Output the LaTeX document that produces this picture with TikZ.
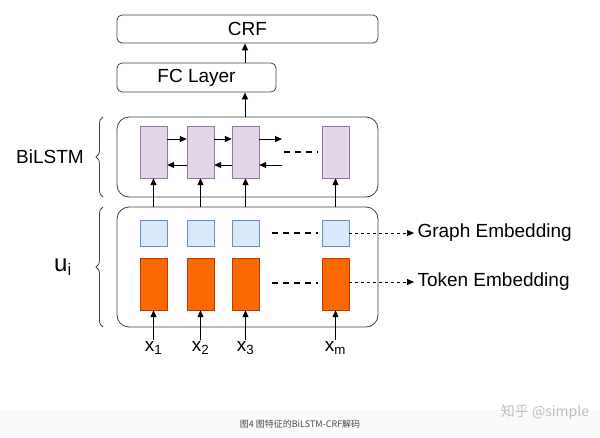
\documentclass[tikz,border=0pt]{standalone}
\usepackage{fontspec}
\setmainfont{Liberation Sans}
\newfontfamily\cjk{Noto Sans CJK SC}
\usetikzlibrary{arrows.meta,decorations.pathreplacing}
\definecolor{lav}{HTML}{E1D5E7}\definecolor{lavd}{HTML}{9673A6}
\definecolor{lblue}{HTML}{DAE8FC}\definecolor{lblued}{HTML}{6C8EBF}
\definecolor{org}{HTML}{FA6800}\definecolor{orgd}{HTML}{C73500}
\begin{document}
\begin{tikzpicture}[x=1pt,y=-1pt,
  box/.style={draw=black!75,line width=0.8pt,rounded corners=5pt},
  big/.style={draw=black!75,line width=0.8pt,rounded corners=12pt},
  lstm/.style={draw=lavd,fill=lav,minimum width=27pt,minimum height=52pt,inner sep=0},
  gemb/.style={draw=lblued,fill=lblue,minimum width=27pt,minimum height=26pt,inner sep=0},
  temb/.style={draw=orgd,fill=org,minimum width=27pt,minimum height=52pt,inner sep=0},
  arr/.style={-{Triangle[length=7pt,width=6pt]},line width=1pt},
  lbl/.style={font=\fontsize{19}{22}\selectfont}]
\useasboundingbox (0,0) rectangle (600,437);
\fill[black!2] (0,410) rectangle (600,437);
\node[box,minimum width=261pt,minimum height=28pt,lbl] (crf) at (247.5,29) {CRF};
\node[box,minimum width=159pt,minimum height=29pt,lbl] (fc) at (196.5,77.5) {FC Layer};
\node[big,minimum width=261pt,minimum height=80pt] (bil) at (247.5,157) {};
\node[big,minimum width=261pt,minimum height=120pt] (ui) at (247.5,267) {};
\draw[arr] ([xshift=48.5pt]fc.north) -- ([xshift=48.5pt]fc.north |- crf.south);
\draw[arr] ([xshift=48.5pt]fc.south |- bil.north) -- ([xshift=48.5pt]fc.south);
\foreach \i/\x in {1/153.5,2/200.5,3/245.5,4/335.5}{
  \node[lstm] (l\i) at (\x,152) {};
  \node[gemb] (g\i) at (\x,233) {};
  \node[temb] (t\i) at (\x,284) {};
  \coordinate (in\i) at (\x,340);
  \draw[arr] (in\i) -- (t\i.south);
  \draw[arr] (ui.north -| l\i.south) -- (l\i.south);
}
\foreach \a/\b in {1/2,2/3}{
  \draw[arr] ([yshift=13pt]l\a.east) -- ([yshift=13pt]l\b.west);
  \draw[arr] ([yshift=-13pt]l\b.west) -- ([yshift=-13pt]l\a.east);
}
\coordinate (fr) at (282,139); \coordinate (br) at (282,165);
\draw[arr] ([yshift=13pt]l3.east) -- (fr);
\draw[arr] (br) -- ([yshift=-13pt]l3.east);
\draw[line width=1.6pt,dash pattern=on 6pt off 5pt] (284,152) -- (318,152);
\draw[line width=1.6pt,dash pattern=on 6pt off 5pt] (272,233) -- (318,233);
\draw[line width=1.6pt,dash pattern=on 6pt off 5pt] (272,283) -- (318,283);
\node[lbl,anchor=west] (ge) at (414,233) {Graph Embedding};
\node[lbl,anchor=west] (te) at (414,282) {Token Embedding};
\draw[arr,line width=0.7pt,dashed] (g4.east) -- (ge.west);
\draw[arr,line width=0.7pt,dashed] (t4.east |- te.west) -- (te.west);
\foreach \i/\s in {1/1,2/2,3/3,4/m}{
  \node[lbl,anchor=north] (x\i) at ([yshift=2pt]in\i) {x$_{\mathrm{\s}}$};
}
\draw[decorate,decoration={brace,amplitude=7pt},line width=0.8pt,black!75] (103,197) -- (103,117);
\node[lbl] (bl) at (50,157) {BiLSTM};
\draw[decorate,decoration={brace,amplitude=7pt},line width=0.8pt,black!75] (103,327) -- (103,207);
\node[font=\fontsize{24}{26}\selectfont] (u) at (63,267) {u$_{\mathrm{i}}$};
\node[font=\cjk\fontsize{9}{11}\selectfont,text=black!70] (cap) at (300,424) {图4 图特征的BiLSTM-CRF解码};
\node[font=\cjk\fontsize{14}{16}\selectfont,text=black!25] (wm) at (545,412) {知乎 @simple};
\end{tikzpicture}
\end{document}
